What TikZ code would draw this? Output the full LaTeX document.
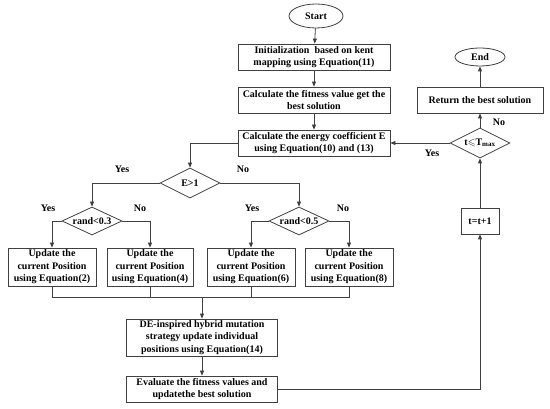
\documentclass[tikz,border=0pt]{standalone}
\usepackage{fontspec}
\usepackage{amssymb}
\setmainfont{Liberation Serif}
\usetikzlibrary{shapes.geometric,arrows.meta}
\definecolor{ln}{HTML}{404040}
\tikzset{
  every node/.style={font=\bfseries\fontsize{10}{12.5}\selectfont, text=black},
  procbox/.style={draw=ln, line width=0.8pt, rectangle, inner sep=1pt, align=center},
  decide/.style={draw=ln, line width=0.8pt, diamond, aspect=2, inner sep=0pt, minimum width=60pt, minimum height=30pt},
  term/.style={draw=ln, line width=0.8pt, ellipse, inner sep=0pt},
  conn/.style={draw=ln, line width=0.8pt},
  arr/.style={conn, -{Triangle[length=5pt,width=4pt]}},
  lbl/.style={inner sep=0pt}
}
\begin{document}
\begin{tikzpicture}[x=1pt,y=-1pt]
\useasboundingbox (0,0) rectangle (550,409);
% main column
\node[term, minimum width=54pt, minimum height=24pt] (start) at (316,16) {Start};
\node[procbox, minimum width=152pt, minimum height=26pt] (init) at (314,57) {Initialization\ \ based on kent\\mapping using Equation(11)};
\node[procbox, minimum width=152pt, minimum height=26pt] (fit) at (314,100) {Calculate the fitness value get the\\best solution};
\node[procbox, minimum width=152pt, minimum height=26pt] (energy) at (314,143) {Calculate the energy coefficient E\\using Equation(10) and (13)};
% decisions
\node[decide] (e1) at (190,183) {E\textgreater1};
\node[decide, minimum height=28pt] (r3) at (92,221) {rand\textless0.3};
\node[decide, minimum height=28pt] (r5) at (299,221) {rand\textless0.5};
% update boxes
\node[procbox, minimum width=88pt, minimum height=38pt] (ua) at (52,267) {Update the\\current Position\\using Equation(2)};
\node[procbox, minimum width=86pt, minimum height=38pt] (ub) at (150,267) {Update the\\current Position\\using Equation(4)};
\node[procbox, minimum width=88pt, minimum height=38pt] (uc) at (251,267) {Update the\\current Position\\using Equation(6)};
\node[procbox, minimum width=88pt, minimum height=38pt] (ud) at (349,267) {Update the\\current Position\\using Equation(8)};
\coordinate (m) at (202,297);
\node[procbox, minimum width=151pt, minimum height=37pt] (de) at (202,337.5) {DE-inspired hybrid mutation\\strategy update individual\\positions using Equation(14)};
\node[procbox, minimum width=151pt, minimum height=26pt] (ev) at (202,389) {Evaluate the fitness values and\\updatethe best solution};
% right column
\node[procbox, minimum width=38pt, minimum height=26pt] (tt) at (480,221) {t=t+1};
\node[decide] (tm) at (480,143) {t$\leqslant$T\textsubscript{max}};
\node[procbox, minimum width=126pt, minimum height=26pt] (ret) at (480,100) {Return the best solution};
\node[term, minimum width=50pt, minimum height=18pt] (end) at (480,57) {End};
% connectors
\draw[arr] (start) -- (init);
\draw[arr] (init) -- (fit);
\draw[arr] (fit) -- (energy);
\draw[arr] (energy.west) -| (e1.north);
\draw[arr] (e1.west) -| (r3.north);
\draw[arr] (e1.east) -| (r5.north);
\draw[arr] (r3.west) -| (ua.north);
\draw[arr] (r3.east) -| (ub.north);
\draw[arr] (r5.west) -| (uc.north);
\draw[arr] (r5.east) -| (ud.north);
\draw[conn] (ua.south) |- (m);
\draw[conn] (ud.south) |- (m);
\draw[conn] (ub.south) -- (ub.south |- m);
\draw[conn] (uc.south) -- (uc.south |- m);
\draw[arr] (m) -- (de.north);
\draw[arr] (de) -- (ev);
\draw[arr] (ev.east) -| (tt.south);
\draw[arr] (tt.north) -- (tm.south);
\draw[arr] (tm.west) -- (energy.east);
\draw[arr] (tm.north) -- (ret.south);
\draw[arr] (ret.north) -- (end.south);
% labels
\node[lbl] at (122,169) {Yes};
\node[lbl] at (243,169) {No};
\node[lbl] at (48,208) {Yes};
\node[lbl] at (140,208) {No};
\node[lbl] at (252,208) {Yes};
\node[lbl] at (343,208) {No};
\node[lbl] at (432,153) {Yes};
\node[lbl] at (499,122) {No};
\end{tikzpicture}
\end{document}
